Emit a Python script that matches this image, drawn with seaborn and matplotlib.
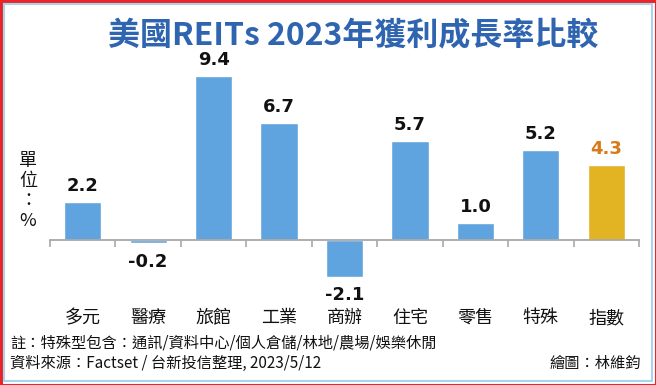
import matplotlib
matplotlib.use("Agg")
import matplotlib.pyplot as plt
import seaborn as sns
import pandas as pd
from matplotlib.patches import Rectangle
import matplotlib.transforms as mtransforms

categories = ["多元", "醫療", "旅館", "工業", "商辦", "住宅", "零售", "特殊", "指數"]
values = [2.2, -0.2, 9.4, 6.7, -2.1, 5.7, 1.0, 5.2, 4.3]
groups = ["sector"] * 8 + ["index"]
value_labels = ["2.2", "-0.2", "9.4", "6.7", "-2.1", "5.7", "1.0", "5.2", "4.3"]

title = "美國REITs 2023年獲利成長率比較"
unit_label = "單\n位\n：\n%"
note1 = "註：特殊型包含：通訊/資料中心/個人倉儲/林地/農場/娛樂休閒"
note2 = "資料來源：Factset / 台新投信整理, 2023/5/12"
credit = "繪圖：林維鈞"

sns.set_theme(style="white")
plt.rcParams['font.family'] = ['Noto Sans CJK TC', 'DejaVu Sans']

df = pd.DataFrame({"cat": categories, "val": values, "grp": groups})

fig = plt.figure(figsize=(6.56, 3.85), dpi=100)
ax = fig.add_axes([50/656, 1-290/385, 589/656, 220/385])

palette = {"sector": "#5fa4df", "index": "#e2b323"}
sns.barplot(data=df, x="cat", y="val", hue="grp", palette=palette, dodge=False,
            width=0.57, legend=False, ax=ax, saturation=1)

ax.set_xlim(-0.5, 8.5)
ax.set_ylim(-50/17.4, 170/17.4)
ax.set_xlabel("")
ax.set_ylabel("")
for s in ["top", "right", "left"]:
    ax.spines[s].set_visible(False)
ax.spines["bottom"].set_position(("data", 0))
ax.spines["bottom"].set_color("#a8a8a8")
ax.spines["bottom"].set_linewidth(1.3)
ax.set_yticks([])
ax.set_xticks([i - 0.5 for i in range(len(categories) + 1)])
ax.set_xticklabels([])
ax.tick_params(axis="x", direction="out", length=5, width=1.2, color="#a8a8a8", bottom=True)
ax.patch.set_alpha(0)

for i, (v, lab) in enumerate(zip(values, value_labels)):
    color = "#d97a1a" if groups[i] == "index" else "#111111"
    if v >= 0:
        ax.annotate(lab, (i, v), xytext=(0, 5), textcoords="offset points",
                    ha="center", va="bottom", fontsize=13, fontweight="bold",
                    color=color, family=["DejaVu Sans"])
    else:
        ax.annotate(lab, (i, v), xytext=(0, -7), textcoords="offset points",
                    ha="center", va="top", fontsize=13, fontweight="bold",
                    color=color, family=["DejaVu Sans"])

trans = mtransforms.blended_transform_factory(ax.transData, fig.transFigure)
for i, c in enumerate(categories):
    ax.text(i, 1 - 318/385, c, transform=trans, ha="center", va="center",
            fontsize=13, color="#111111")

fig.text(353/656, 1 - 36/385, title, ha="center", va="center", fontsize=23,
         fontweight="bold", color="#2e64b0")
fig.text(28/656, 1 - 191/385, unit_label, ha="center", va="center", fontsize=13,
         color="#111111", linespacing=1.12)
fig.text(10/656, 1 - 343/385, note1, ha="left", va="center", fontsize=11, color="#111111")
fig.text(10/656, 1 - 363/385, note2, ha="left", va="center", fontsize=11, color="#111111")
fig.text(641/656, 1 - 363/385, credit, ha="right", va="center", fontsize=11, color="#111111")

fig.patches.append(Rectangle((0.5/656, 0.5/385), 655/656, 384/385, transform=fig.transFigure,
                             fill=False, edgecolor="#e8262a", linewidth=2.2))
fig.patches.append(Rectangle((4/656, 4/385), 648/656, 377/385, transform=fig.transFigure,
                             fill=False, edgecolor="#a8d4ee", linewidth=1.5))

fig.savefig("out.png", dpi=100)
